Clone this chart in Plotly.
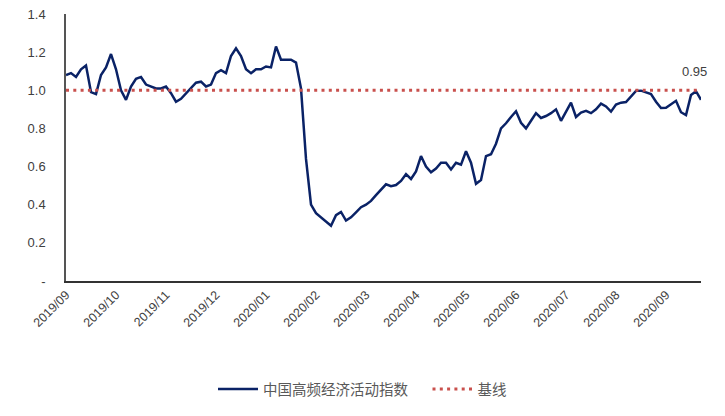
import plotly.graph_objects as go

# Month labels on the category axis (10 observations per label interval)
month_labels = ["2019/09", "2019/10", "2019/11", "2019/12", "2020/01", "2020/02",
                "2020/03", "2020/04", "2020/05", "2020/06", "2020/07", "2020/08", "2020/09"]
points_per_label = 10

# 中国高频经济活动指数
activity_index = [
    1.08, 1.09, 1.07, 1.11, 1.13, 0.99, 0.98, 1.08, 1.12, 1.19,
    1.11, 1.00, 0.95, 1.02, 1.06, 1.07, 1.03, 1.02, 1.01, 1.01,
    1.02, 0.985, 0.94, 0.955, 0.985, 1.01, 1.04, 1.045, 1.02, 1.03,
    1.09, 1.105, 1.09, 1.18, 1.22, 1.18, 1.11, 1.09, 1.11, 1.11,
    1.125, 1.12, 1.23, 1.16, 1.16, 1.16, 1.145, 1.01, 0.64, 0.40,
    0.356, 0.335, 0.31, 0.29, 0.345, 0.362, 0.317, 0.334, 0.36, 0.387,
    0.40, 0.42, 0.45, 0.48, 0.507, 0.497, 0.503, 0.525, 0.56, 0.535,
    0.575, 0.655, 0.60, 0.57, 0.59, 0.62, 0.62, 0.585, 0.62, 0.61,
    0.68, 0.62, 0.51, 0.53, 0.655, 0.665, 0.72, 0.80, 0.827, 0.86,
    0.89, 0.83, 0.80, 0.84, 0.88, 0.855, 0.865, 0.88, 0.90, 0.84,
    0.89, 0.935, 0.86, 0.883, 0.892, 0.88, 0.90, 0.93, 0.915, 0.888,
    0.925, 0.935, 0.938, 0.965, 0.997, 0.998, 0.989, 0.98, 0.94, 0.907,
    0.908, 0.925, 0.945, 0.885, 0.87, 0.975, 0.995, 0.95,
]
baseline_value = 1.0

y_tick_values = [0, 0.2, 0.4, 0.6, 0.8, 1.0, 1.2, 1.4]
y_tick_text = ["-", "0.2", "0.4", "0.6", "0.8", "1.0", "1.2", "1.4"]

series_name = "中国高频经济活动指数"
baseline_name = "基线"

idx = list(range(len(activity_index)))
baseline = [baseline_value] * len(idx)

fig = go.Figure()
fig.add_trace(go.Scatter(
    x=idx, y=activity_index, mode="lines", name=series_name + "\u3000",
    line=dict(color="#0A2266", width=2.5),
))
fig.add_trace(go.Scatter(
    x=idx, y=baseline, mode="lines", name=baseline_name,
    line=dict(color="#C9504D", width=3, dash="3px,4.3px"),
))

fig.add_annotation(
    x=idx[-1], y=activity_index[-1], xref="x", yref="y",
    text=f"{activity_index[-1]:.2f}", showarrow=False,
    xanchor="center", yanchor="middle", xshift=-7, yshift=28,
    font=dict(family="Liberation Sans, Arial, sans-serif", size=13, color="#404040"),
)

fig.update_layout(
    width=725, height=416,
    margin=dict(l=66, r=24, t=14, b=135, autoexpand=False),
    paper_bgcolor="white", plot_bgcolor="white",
    showlegend=True,
    legend=dict(
        orientation="h", xref="container", yref="container",
        x=0.5, xanchor="center", y=0.065, yanchor="middle",
        font=dict(family="Noto Sans CJK SC, sans-serif", size=14.5, color="#595959"),
        itemwidth=40, tracegroupgap=0,
    ),
    font=dict(family="Liberation Sans, Arial, sans-serif", size=13, color="#404040"),
)

fig.update_xaxes(
    range=[0, len(idx) - 1],
    tickvals=[i * points_per_label for i in range(len(month_labels))],
    ticktext=month_labels,
    tickangle=-45, automargin=False,
    showgrid=False, zeroline=False,
    showline=True, linecolor="#333333", linewidth=1.5,
    ticks="", tickfont=dict(size=12.5, color="#404040"),
)
fig.update_yaxes(
    range=[0, 1.4], automargin=False,
    tickvals=y_tick_values, ticktext=y_tick_text,
    showgrid=False, zeroline=False,
    showline=True, linecolor="#555555", linewidth=1.5,
    ticks="", ticklabelstandoff=16,
    tickfont=dict(size=13, color="#404040"),
)

fig.write_html("out.html")
